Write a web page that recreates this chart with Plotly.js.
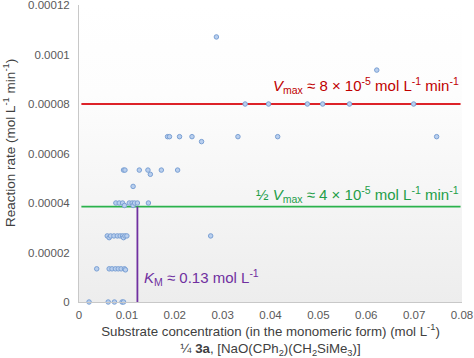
<!DOCTYPE html>
<html>
<head>
<meta charset="utf-8">
<script src="https://cdn.plot.ly/plotly-3.0.1.min.js"></script>
<style>html,body{margin:0;padding:0;background:#fff;}#chart{width:474px;height:358px;}</style>
</head>
<body>
<div id="chart"></div>
<script>
// Measured data points (substrate concentration, reaction rate)
var concentration = [
  0.0021, 0.0061, 0.0074, 0.0090, 0.0093,
  0.0037, 0.0063, 0.0069, 0.0076, 0.0082, 0.0088, 0.0095, 0.0097,
  0.0059, 0.0063, 0.0066, 0.0073, 0.0080, 0.0086, 0.0091, 0.0093, 0.0096, 0.0100, 0.0275,
  0.0077, 0.0084, 0.0091, 0.0095, 0.0105, 0.0111, 0.0113, 0.0116, 0.0122, 0.0145,
  0.0113,
  0.0093, 0.0096, 0.0126, 0.0144, 0.0149, 0.0172, 0.0206,
  0.0185, 0.0189, 0.0210, 0.0236, 0.0256, 0.0332, 0.0415, 0.0747,
  0.0347, 0.0396, 0.0477, 0.0509, 0.0565, 0.0699,
  0.0622, 0.0287
];
var rate = [
  0, 0, 0, 0, 0,
  1.34e-5, 1.34e-5, 1.34e-5, 1.34e-5, 1.34e-5, 1.34e-5, 1.34e-5, 1.30e-5,
  2.67e-5, 2.60e-5, 2.67e-5, 2.67e-5, 2.67e-5, 2.67e-5, 2.67e-5, 2.60e-5, 2.67e-5, 2.67e-5, 2.67e-5,
  4.0e-5, 4.0e-5, 4.0e-5, 3.9e-5, 4.0e-5, 4.0e-5, 3.9e-5, 4.0e-5, 4.0e-5, 4.0e-5,
  4.67e-5,
  5.33e-5, 5.33e-5, 5.33e-5, 5.33e-5, 5.16e-5, 5.33e-5, 5.33e-5,
  6.68e-5, 6.68e-5, 6.68e-5, 6.68e-5, 6.48e-5, 6.68e-5, 6.68e-5, 6.68e-5,
  8.0e-5, 8.0e-5, 8.0e-5, 8.0e-5, 8.0e-5, 8.0e-5,
  9.37e-5, 1.071e-4
];
var vmax = 8e-5;
var halfVmax = 3.85e-5;
var km = 0.0122;
var lineStart = 0.0005;
var lineEnd = 0.0797;

var xTickVals = [0, 0.01, 0.02, 0.03, 0.04, 0.05, 0.06, 0.07, 0.08];
var xTickText = ["0", "0.01", "0.02", "0.03", "0.04", "0.05", "0.06", "0.07", "0.08"];
var yTickVals = [0, 0.00002, 0.00004, 0.00006, 0.00008, 0.0001, 0.00012];
var yTickText = ["0", "0.00002", "0.00004", "0.00006", "0.00008", "0.0001", "0.00012"];

var labelVmax = "<i>V</i><sub>max</sub> ≈ 8 × 10<sup>-5</sup> mol L<sup>-1</sup> min<sup>-1</sup>";
var labelHalf = "½ <i>V</i><sub>max</sub> ≈ 4 × 10<sup>-5</sup> mol L<sup>-1</sup> min<sup>-1</sup>";
var labelKm = "<i>K</i><sub>M</sub> ≈ 0.13 mol L<sup>-1</sup>";
var xTitle = "Substrate concentration (in the monomeric form) (mol L<sup>-1</sup>)<br>¼ <b>3a</b>, [NaO(CPh<sub>2</sub>)(CH<sub>2</sub>SiMe<sub>3</sub>)]";
var yTitle = "Reaction rate (mol L<sup>-1</sup> min<sup>-1</sup>)";

var font = "'Liberation Sans', Arial, sans-serif";

var gradSvg = '<svg xmlns="http://www.w3.org/2000/svg" width="100" height="100" preserveAspectRatio="none"><defs><linearGradient id="g" x1="0" y1="0" x2="0" y2="1"><stop offset="0" stop-color="#ffffff"/><stop offset="0.3" stop-color="#fdfdfd"/><stop offset="1" stop-color="#ededed"/></linearGradient></defs><rect width="100" height="100" fill="url(#g)"/></svg>';
var gradUrl = 'data:image/svg+xml;charset=utf-8,' + encodeURIComponent(gradSvg);

var traces = [
  {x: [lineStart, lineEnd], y: [vmax, vmax], mode: 'lines', line: {color: '#dd2229', width: 1.8}, hoverinfo: 'skip', showlegend: false},
  {x: [lineStart, lineEnd], y: [halfVmax, halfVmax], mode: 'lines', line: {color: '#2bb24c', width: 1.8}, hoverinfo: 'skip', showlegend: false},
  {x: [km, km], y: [0, halfVmax], mode: 'lines', line: {color: '#7030a0', width: 1.8}, hoverinfo: 'skip', showlegend: false},
  {x: concentration, y: rate, mode: 'markers', cliponaxis: false,
   marker: {size: 4.5, color: '#b9cfee', line: {color: '#7aa0d4', width: 1}}, showlegend: false}
];

var layout = {
  width: 474, height: 358,
  margin: {l: 79, r: 12, t: 5, b: 56},
  paper_bgcolor: '#ffffff',
  plot_bgcolor: 'rgba(0,0,0,0)',
  font: {family: font, color: '#595959', size: 12},
  showlegend: false,
  images: [{source: gradUrl, xref: 'paper', yref: 'paper', x: 0, y: 1, sizex: 1, sizey: 1,
            sizing: 'stretch', xanchor: 'left', yanchor: 'top', layer: 'below'}],
  xaxis: {
    range: [0, 0.08], tickvals: xTickVals, ticktext: xTickText,
    showgrid: false, zeroline: false, showline: true, linecolor: '#c8c8c8', linewidth: 1,
    ticks: '', tickfont: {size: 11.5, color: '#595959'}, ticklabeloverflow: 'allow', ticklabelstandoff: 2,
    title: {text: xTitle, font: {size: 13.3, color: '#404040'}, standoff: 9}
  },
  yaxis: {
    range: [0, 0.00012], tickvals: yTickVals, ticktext: yTickText,
    showgrid: false, zeroline: false, showline: true, linecolor: '#c8c8c8', linewidth: 1,
    ticks: '', tickfont: {size: 11.5, color: '#595959'}, ticklabeloverflow: 'allow', ticklabelstandoff: 6
  },
  annotations: [
    {text: yTitle, x: 0, y: 0.535, xref: 'paper', yref: 'paper', xanchor: 'center', yanchor: 'middle',
     xshift: -70, textangle: -90, showarrow: false, font: {size: 13.5, color: '#404040', family: font}},
    {text: labelVmax, x: lineEnd, y: 8.75e-5, xref: 'x', yref: 'y', xanchor: 'right', yanchor: 'middle',
     showarrow: false, font: {size: 15, color: '#c00000', family: font}},
    {text: labelHalf, x: lineEnd, y: 4.35e-5, xref: 'x', yref: 'y', xanchor: 'right', yanchor: 'middle',
     showarrow: false, font: {size: 15, color: '#1f9e49', family: font}},
    {text: labelKm, x: 0.0132, y: 0.97e-5, xref: 'x', yref: 'y', xanchor: 'left', yanchor: 'middle',
     showarrow: false, font: {size: 15, color: '#7030a0', family: font}}
  ]
};

Plotly.newPlot('chart', traces, layout, {displayModeBar: false, staticPlot: true});
</script>
</body>
</html>
